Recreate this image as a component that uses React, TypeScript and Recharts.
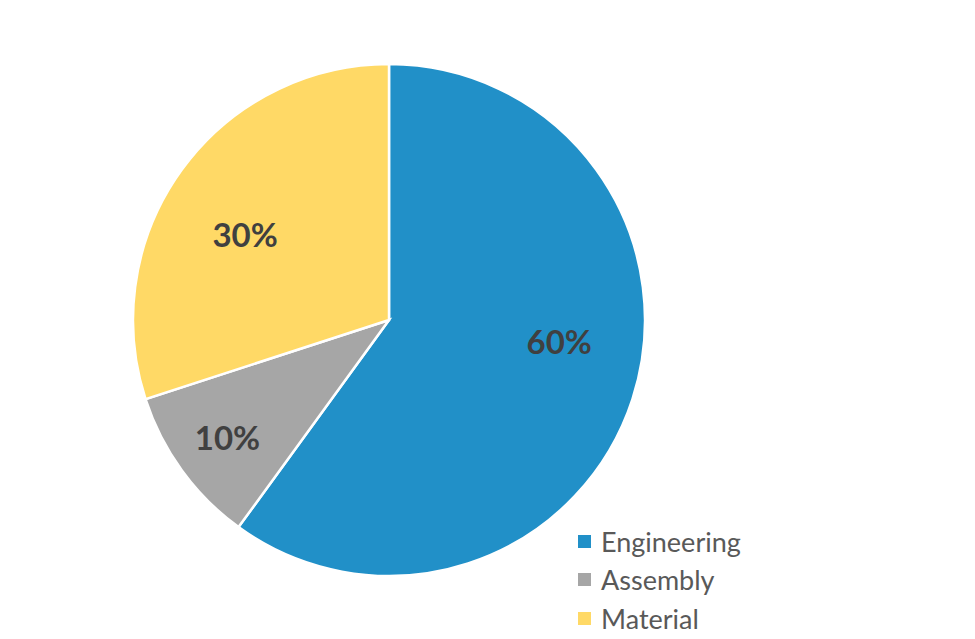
import React from 'react';
import { PieChart, Pie, Cell, Legend } from 'recharts';

const categories = ['Engineering', 'Assembly', 'Material'];
const values = [60, 10, 30];
const colors = ['#2190C8', '#A6A6A6', '#FFD966'];

const data = categories.map((name, i) => ({ name, value: values[i] }));

const RADIAN = Math.PI / 180;
// label placement tweaks (radius ratio, angle shift) mimicking Excel best-fit
const labelRadius = [0.67, 0.78, 0.656];
const labelAngleShift = [11, 0, 5];

const renderLabel = (props: any) => {
  const { cx, cy, midAngle, outerRadius, index, percent } = props;
  const r = outerRadius * labelRadius[index];
  const a = (midAngle + labelAngleShift[index]) * RADIAN;
  const x = cx + r * Math.cos(-a);
  const y = cy + r * Math.sin(-a);
  return (
    <text
      x={x}
      y={y}
      fill="#404040"
      textAnchor="middle"
      dominantBaseline="central"
      fontFamily="Lato, 'Open Sans', sans-serif"
      fontWeight={700}
      fontSize={33}
    >
      {`${Math.round(percent * 100)}%`}
    </text>
  );
};

const renderLegend = () => (
  <div style={{ fontFamily: "Lato, 'Open Sans', sans-serif", fontSize: 27, color: '#595959' }}>
    {data.map((d, i) => (
      <div key={d.name} style={{ display: 'flex', alignItems: 'center', height: 38.5 }}>
        <span
          style={{
            display: 'inline-block',
            width: 13,
            height: 13,
            background: colors[i],
            marginRight: 10,
          }}
        />
        <span>{d.name}</span>
      </div>
    ))}
  </div>
);

export default function App() {
  return (
    <div style={{ position: 'absolute', left: 0, top: 0, width: 975, height: 639, background: '#fff' }}>
      <PieChart width={975} height={639} margin={{ top: 0, right: 0, bottom: 0, left: 0 }}>
        <Pie
          data={data}
          dataKey="value"
          nameKey="name"
          cx={389}
          cy={320}
          outerRadius={256}
          startAngle={90}
          endAngle={-270}
          stroke="#FFFFFF"
          strokeWidth={2.5}
          label={renderLabel}
          labelLine={false}
          isAnimationActive={false}
        >
          {data.map((d, i) => (
            <Cell key={d.name} fill={colors[i]} />
          ))}
        </Pie>
        <Legend
          content={renderLegend}
          layout="vertical"
          wrapperStyle={{ position: 'absolute', left: 578, top: 522, width: 300 }}
        />
      </PieChart>
    </div>
  );
}
